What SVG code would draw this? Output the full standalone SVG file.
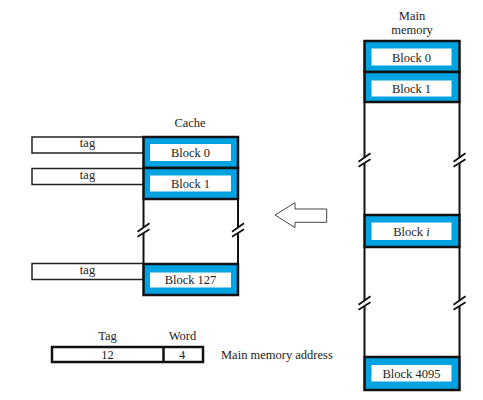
<svg xmlns="http://www.w3.org/2000/svg" width="483" height="400" viewBox="0 0 483 400">
<style>
text{font-family:"Liberation Serif","Times New Roman",serif;font-size:12.5px;fill:#222;text-anchor:middle}
.blk{fill:#00a3e2;stroke:#111;stroke-width:2.5}
.in{fill:#fff;stroke:none}
.tag{fill:#fff;stroke:#222;stroke-width:1.5}
.ln{stroke:#111;stroke-width:2;fill:none}
.brk{stroke:#111;stroke-width:1.8;fill:none}
</style>
<rect width="483" height="400" fill="#fff"/>
<g id="cache-label"><text x="190" y="127">Cache</text></g>
<g id="mem-label"><text x="412" y="19.5">Main</text><text x="412" y="33.5">memory</text></g>

<g id="tag0"><rect class="tag" x="32" y="137" width="111.5" height="16"/><text x="87.5" y="147">tag</text></g>
<g id="tag1"><rect class="tag" x="32" y="168.5" width="111.5" height="16"/><text x="87.5" y="178.5">tag</text></g>
<g id="tag127"><rect class="tag" x="32" y="263.5" width="111.5" height="16"/><text x="87.5" y="273.5">tag</text></g>

<g id="connectors">
<path class="ln" d="M143.5 199V227.5M143.5 233V264M238 199V227.5M238 233V264"/>
<path class="brk" d="M137.5 231.7L149.5 223.3M137.5 236.7L149.5 229.3M232 231.7L244 223.3M232 236.7L244 229.3"/>
<path class="ln" d="M364.5 102V157.5M364.5 163V215M459.5 102V157.5M459.5 163V215"/>
<path class="brk" d="M358.5 161.7L370.5 153.3M358.5 166.7L370.5 159.3M453.5 161.7L465.5 153.3M453.5 166.7L465.5 159.3"/>
<path class="ln" d="M364.5 247V300.5M364.5 306V357M459.5 247V300.5M459.5 306V357"/>
<path class="brk" d="M358.5 304.7L370.5 296.3M358.5 309.7L370.5 302.3M453.5 304.7L465.5 296.3M453.5 309.7L465.5 302.3"/>
</g>

<g id="cache-block0"><rect class="blk" x="143.5" y="137" width="94.5" height="31"/><rect class="in" x="150" y="144" width="81" height="17"/><text x="190.5" y="157">Block 0</text></g>
<g id="cache-block1"><rect class="blk" x="143.5" y="168" width="94.5" height="31"/><rect class="in" x="150" y="175.5" width="81" height="16"/><text x="190.5" y="188">Block 1</text></g>
<g id="cache-block127"><rect class="blk" x="143.5" y="264" width="94.5" height="31"/><rect class="in" x="150" y="272.5" width="81" height="15"/><text x="190.5" y="284">Block 127</text></g>

<g id="mem-block0"><rect class="blk" x="364.5" y="41" width="95" height="31"/><rect class="in" x="371.5" y="48.5" width="80" height="17"/><text x="411.5" y="61.5">Block 0</text></g>
<g id="mem-block1"><rect class="blk" x="364.5" y="72" width="95" height="30"/><rect class="in" x="371.5" y="80.5" width="80" height="16"/><text x="411.5" y="92.5">Block 1</text></g>
<g id="mem-blocki"><rect class="blk" x="364.5" y="215" width="95" height="32"/><rect class="in" x="371.5" y="222.5" width="80" height="17.5"/><text x="411.5" y="235.5">Block <tspan font-style="italic">i</tspan></text></g>
<g id="mem-block4095"><rect class="blk" x="364.5" y="357" width="95" height="33"/><rect class="in" x="371.5" y="365" width="80" height="16.5"/><text x="411.5" y="377.5">Block 4095</text></g>

<g id="arrow"><polygon points="275,215 295,202.7 295,209 326.7,209 326.7,222.3 295,222.3 295,227.7" fill="#fff" stroke="#444" stroke-width="1"/></g>

<g id="address">
<text x="107.5" y="339.5">Tag</text><text x="182.5" y="339.5">Word</text>
<rect x="52" y="347" width="151" height="15" fill="#fff" stroke="#111" stroke-width="2.5"/>
<line x1="163.5" y1="347" x2="163.5" y2="362" stroke="#111" stroke-width="2.5"/>
<text x="107.5" y="359">12</text><text x="182" y="359">4</text>
<text x="221" y="359" style="text-anchor:start">Main memory address</text>
</g>
</svg>
